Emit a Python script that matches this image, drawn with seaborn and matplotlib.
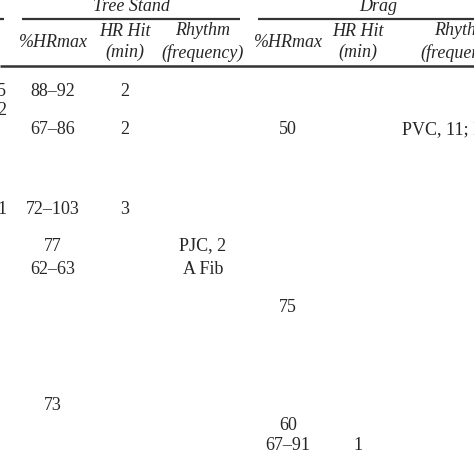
import matplotlib
matplotlib.use("Agg")
import matplotlib.pyplot as plt
import seaborn as sns

sns.set_style("white")
plt.rcParams['font.family'] = ['Liberation Serif', 'DejaVu Serif']

groups = ["Tree Stand", "Drag"]
col_heads = ["%HRmax", "HR Hit\n(min)", "Rhythm\n(frequency)", "%HRmax", "HR Hit\n(min)", "Rhythm\n(frequency)"]
tree_hr = [(91, "88–92"), (130, "67–86"), (209, "72–103"), (246, "77"), (269, "62–63"), (406, "73")]
tree_hit = [(91, "2"), (130, "2"), (209, "3")]
tree_rhythm = [(246, "PJC, 2"), (269, "A Fib")]
drag_hr = [(130, "50"), (308, "75"), (425, "60"), (446, "67–91")]
drag_hit = [(446, "1")]
drag_rhythm = [(130, "PVC, 11; D")]
left_cut = [(91, "5"), (110, "2"), (209, "1")]

col_x = [53, 125, 203, 288, 358, 462]

fig = plt.figure(figsize=(4.74, 4.74), dpi=100)
ax = fig.add_axes([0, 0, 1, 1])
ax.set_xlim(0, 474)
ax.set_ylim(474, 0)
ax.axis("off")

fs = 13
ax.text(131, 6, groups[0], ha="center", va="center", style="italic", fontsize=fs)
ax.text(378, 6, groups[1], ha="center", va="center", style="italic", fontsize=fs)
ax.hlines(19, 22, 240, color="#333", lw=1.6)
ax.hlines(19, 258, 474, color="#333", lw=1.6)
ax.hlines(19, 0, 4, color="#333", lw=1.6)
ax.hlines(66, 0, 474, color="#333", lw=1.8)

for x, h in zip(col_x, col_heads):
    ax.text(x, 42, h, ha="center", va="center", style="italic", fontsize=fs, linespacing=1.3)

for ci, cells in [(0, tree_hr), (1, tree_hit), (2, tree_rhythm), (3, drag_hr), (4, drag_hit)]:
    for y, t in cells:
        ax.text(col_x[ci], y, t, ha="center", va="center", fontsize=fs)
for y, t in drag_rhythm:
    ax.text(402, y, t, ha="left", va="center", fontsize=fs)
for y, t in left_cut:
    ax.text(-3, y, t, ha="left", va="center", fontsize=fs)

fig.savefig("out.png", dpi=100)
